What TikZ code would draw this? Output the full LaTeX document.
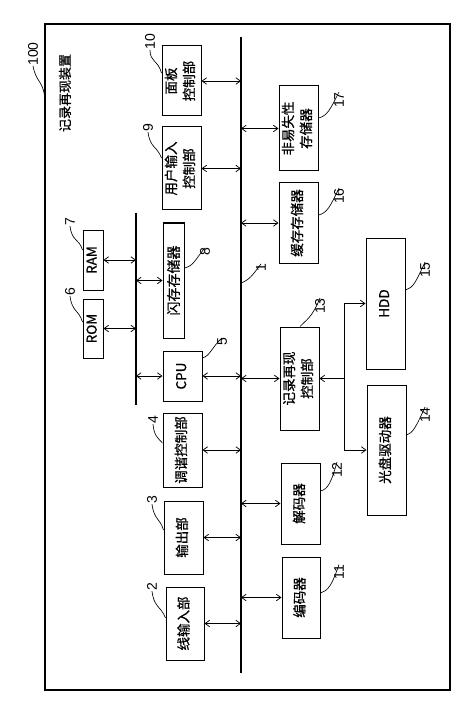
\documentclass[tikz,border=0pt]{standalone}
\usepackage{fontspec}
\usepackage{graphicx}
\setmainfont{Liberation Sans}
\newfontfamily\cjk[AutoFakeBold=0.8]{Noto Sans CJK SC}
\usetikzlibrary{arrows.meta}
\newcommand{\rtxt}[1]{\rotatebox{90}{\begin{tabular}{@{}c@{}}#1\end{tabular}}}
\tikzset{
  blk/.style={draw, line width=1pt, inner sep=0pt, font=\cjk\bfseries\fontsize{13.5}{18}\selectfont},
  bus/.style={line width=1.1pt},
  conn/.style={line width=0.75pt, {Straight Barb[length=4.5pt,width=6.5pt]}-{Straight Barb[length=4.5pt,width=6.5pt]}},
  oneway/.style={line width=0.75pt, -{Straight Barb[length=4.5pt,width=6.5pt]}},
  num/.style={rotate=90, inner sep=0pt, font=\fontsize{14}{14}\selectfont},
  lead/.style={line width=0.65pt}
}
\begin{document}
\begin{tikzpicture}[x=1pt,y=-1pt]
\useasboundingbox (0,0) rectangle (474,703);
% outer frame
\node[draw, line width=1.1pt, minimum width=405pt, minimum height=666pt, inner sep=0pt] (frame) at (247.5,357) {};
\node[num] (n100) at (33,54) {100};
\draw[lead] (n100.west) .. controls (36,82) and (42,80) .. (frame.west |- 0,95);
\node[rotate=90, inner sep=0pt, font=\cjk\bfseries\fontsize{13}{13}\selectfont] (title) at (65,93) {记录再现装置};

% buses
\coordinate (mtop) at (241,37);
\coordinate (mbot) at (241,673);
\draw[bus] (mtop) -- (mbot);
\coordinate (ctop) at (136,213);
\coordinate (cbot) at (136,405);
\draw[bus] (ctop) -- (cbot);

% blocks
\node[blk, minimum width=39pt, minimum height=70pt] (b10) at (181.5,81) {\rtxt{面板\\控制部}};
\node[blk, minimum width=39pt, minimum height=83pt] (b9) at (181.5,168.5) {\rtxt{用户输入\\控制部}};
\node[blk, minimum width=21pt, minimum height=115pt, font=\cjk\bfseries\fontsize{14}{16}\selectfont] (b8) at (173.5,280.5) {\rotatebox{90}{闪存存储器}};
\node[blk, minimum width=20pt, minimum height=60pt] (b7) at (93,260) {\rtxt{RAM}};
\node[blk, minimum width=20pt, minimum height=59pt] (b6) at (93,328.5) {\rtxt{ROM}};
\node[blk, minimum width=39pt, minimum height=50pt] (b5) at (182.5,376) {\rtxt{CPU}};
\node[blk, minimum width=39pt, minimum height=74pt] (b4) at (182.5,450) {\rtxt{调谐控制部}};
\node[blk, minimum width=39pt, minimum height=73pt] (b3) at (183.5,537.5) {\rtxt{输出部}};
\node[blk, minimum width=38pt, minimum height=73pt] (b2) at (185,623.5) {\rtxt{线输入部}};
\node[blk, minimum width=38pt, minimum height=81pt] (b11) at (301,597.5) {\rtxt{编码器}};
\node[blk, minimum width=39pt, minimum height=81pt] (b12) at (300.5,503.5) {\rtxt{解码器}};
\node[blk, minimum width=39pt, minimum height=103pt] (b13) at (299.5,378.5) {\rtxt{记录再现\\控制部}};
\node[blk, minimum width=39pt, minimum height=131pt] (b15) at (385.5,303.5) {\rtxt{HDD}};
\node[blk, minimum width=39pt, minimum height=130pt] (b14) at (386.5,450) {\rtxt{光盘驱动器}};
\node[blk, minimum width=39pt, minimum height=80pt] (b16) at (298.5,223) {\rtxt{缓存存储器}};
\node[blk, minimum width=39pt, minimum height=85pt] (b17) at (298.5,128.5) {\rtxt{非易失性\\存储器}};

% connectors to main bus
\foreach \b in {b10,b9,b5,b4,b3,b2} \draw[conn] (\b.east) -- (\b.east -| mtop);
\foreach \b in {b17,b16,b13,b12,b11} \draw[conn] (\b.west -| mtop) -- (\b.west);
% connectors to cpu bus
\foreach \b in {b7,b6} \draw[conn] (\b.east) -- (\b.east -| ctop);
\foreach \b in {b8,b5} \draw[conn] (\b.west -| ctop) -- (\b.west);
% record/playback controller to drives
\coordinate (j) at (344,378.5);
\draw[oneway] (j) -- (b13.east);
\draw[oneway] (j) |- (b15.west);
\draw[oneway] (j) |- (b14.west);

% reference numbers with leaders
\node[num] (n10) at (150,42) {10};
\draw[lead] (n10.west) .. controls (150,62) and (158,60) .. (b10.west |- 0,73);
\node[num] (n9) at (148,128) {9};
\draw[lead] (n9.west) .. controls (150,148) and (157,146) .. (b9.west |- 0,158);
\node[num] (n7) at (70,222) {7};
\draw[lead] (n7.west) .. controls (72,242) and (79,238) .. (b7.west |- 0,250);
\node[num] (n6) at (70,292) {6};
\draw[lead] (n6.west) .. controls (72,312) and (79,310) .. (b6.west |- 0,322);
\node[num] (n8) at (205,252) {8};
\draw[lead] (b8.east |- 0,268) .. controls (194,266) and (196,258) .. (n8.east);
\node[num] (n5) at (222,342) {5};
\draw[lead] (b5.east |- 0,358) .. controls (210,356) and (212,347) .. (n5.east);
\node[num] (n4) at (153,420) {4};
\draw[lead] (n4.west) .. controls (154,436) and (158,438) .. (b4.west |- 0,443);
\node[num] (n3) at (152,500) {3};
\draw[lead] (n3.west) .. controls (154,520) and (160,518) .. (b3.west |- 0,530);
\node[num] (n2) at (152,587) {2};
\draw[lead] (n2.west) .. controls (154,608) and (161,606) .. (b2.west |- 0,618);
\node[num] (n1) at (261,268) {1};
\draw[lead] (mtop |- 0,283) .. controls (249,280) and (252,276) .. (n1.east);
\node[num] (n13) at (320,306) {13};
\draw[lead] (b13.north -| 300,0) .. controls (306,320) and (312,318) .. (n13.east);
\node[num] (n15) at (425,270) {15};
\draw[lead] (b15.east |- 0,290) .. controls (413,288) and (416,282) .. (n15.east);
\node[num] (n14) at (425,415) {14};
\draw[lead] (b14.east |- 0,435) .. controls (413,433) and (416,427) .. (n14.east);
\node[num] (n16) at (339,196) {16};
\draw[lead] (b16.east |- 0,215) .. controls (327,213) and (330,207) .. (n16.east);
\node[num] (n17) at (339,100) {17};
\draw[lead] (b17.east |- 0,118) .. controls (327,116) and (330,110) .. (n17.east);
\node[num] (n12) at (337,470) {12};
\draw[lead] (b12.east |- 0,491) .. controls (328,489) and (331,483) .. (n12.east);
\node[num] (n11) at (339,572) {11};
\draw[lead] (b11.east |- 0,593) .. controls (328,591) and (332,585) .. (n11.east);
\end{tikzpicture}
\end{document}
